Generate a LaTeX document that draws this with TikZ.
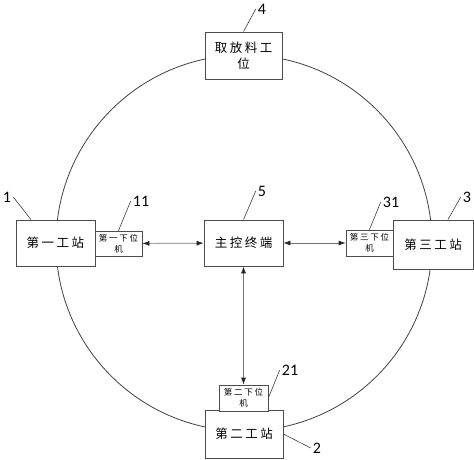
\documentclass[tikz,border=0pt]{standalone}
\usepackage{fontspec}
\setmainfont{Carlito}
\newfontfamily\cjk[LetterSpace=20]{Noto Sans CJK SC}
\usetikzlibrary{arrows.meta,calc,shadows}
\begin{document}
\begin{tikzpicture}[x=1pt,y=-1pt,
  station/.style={draw=black!70,line width=.8pt,fill=white,font=\cjk\fontsize{12.5}{16}\selectfont,
    align=center,inner sep=0pt,
    drop shadow={shadow xshift=1.3pt,shadow yshift=-1.3pt,fill=black!45,opacity=1}},
  lower/.style={draw=black!70,line width=.7pt,fill=white,font=\cjk\fontsize{8.5}{11}\selectfont,
    align=center,inner sep=0pt,
    drop shadow={shadow xshift=1pt,shadow yshift=-1pt,fill=black!45,opacity=1}},
  num/.style={font=\fontsize{16}{16}\selectfont,inner sep=2pt},
  lead/.style={draw=black!75,line width=.6pt},
  link/.style={draw=black!55,line width=.7pt,
    {Latex[length=7pt,width=5pt,color=black!85]}-{Latex[length=7pt,width=5pt,color=black!85]}}]
\useasboundingbox (0,0) rectangle (474,460);
%
\draw[black!75,line width=.8pt] (244,243) circle (188);
%
\node[station,minimum width=77,minimum height=47] (b4) at (243.5,55.5) {取放料工\\位};
\node[station,minimum width=79,minimum height=46] (b1) at (55.5,243) {第一工站};
\node[station,minimum width=79,minimum height=46] (b5) at (243.5,243) {主控终端};
\node[station,minimum width=80,minimum height=49] (b3) at (433,244.5) {第三工站};
\node[station,minimum width=78,minimum height=48] (b2) at (244,434) {第二工站};
%
\node[lower,minimum width=47,minimum height=25] (s1) at (118.5,243.5) {第一下位\\机};
\node[lower,minimum width=47,minimum height=26] (s3) at (369.5,243) {第三下位\\机};
\node[lower,minimum width=49,minimum height=26] (s2) at (243.5,398) {第二下位\\机};
%
\draw[link] (s1) -- (b5);
\draw[link] (b5) -- (s3);
\draw[link] (b5) -- (s2);
%
\node[num] (n1) at (7,197) {1};
\node[num] (n11) at (141,201) {11};
\node[num] (n31) at (391,202) {31};
\node[num] (n3) at (467,197) {3};
\node[num] (n4) at (262,9) {4};
\node[num] (n5) at (262,191) {5};
\node[num] (n21) at (290,370) {21};
\node[num] (n2) at (317,448) {2};
%
\draw[lead] (n1.east) -- ($(b1.north)+(-24.5,0)$);
\draw[lead] (n11.west) -- (s1.north);
\draw[lead] (n31.west) -- (s3.north);
\draw[lead] (n3.west) -- ($(b3.north)+(15,0)$);
\draw[lead] (n4.west) -- (b4.north);
\draw[lead] (n5.west) -- (b5.north);
\draw[lead] (n21.west) -- (s2.east);
\draw[lead] (n2.west) -- (b2.east);
%
\end{tikzpicture}
\end{document}
